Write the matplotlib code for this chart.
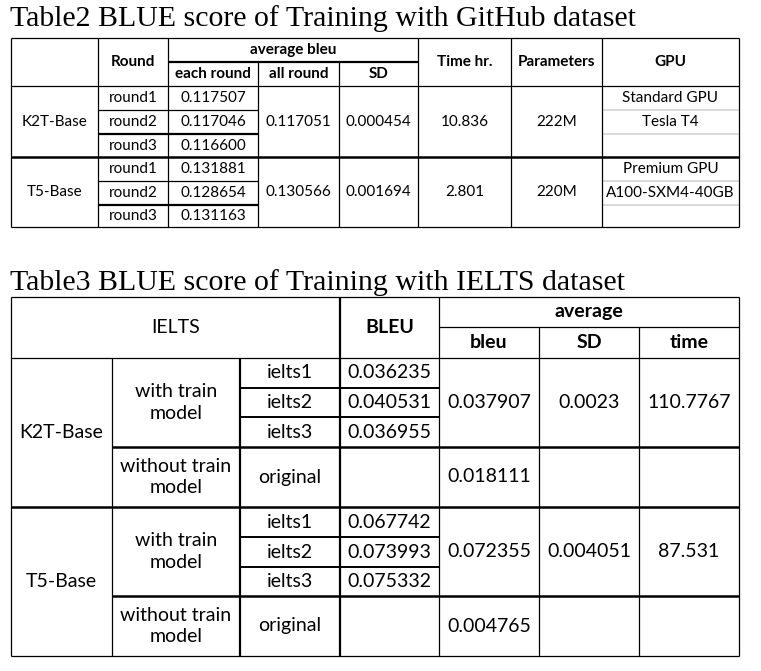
import matplotlib
matplotlib.use("Agg")
import matplotlib.pyplot as plt

# Table2 data
models = ["K2T-Base", "T5-Base"]
rounds = ["round1", "round2", "round3"]
each_round = [["0.117507", "0.117046", "0.116600"],
              ["0.131881", "0.128654", "0.131163"]]
all_round = ["0.117051", "0.130566"]
sd_round = ["0.000454", "0.001694"]
time_hr = ["10.836", "2.801"]
params = ["222M", "220M"]
gpu = [["Standard GPU", "Tesla T4"], ["Premium GPU", "A100-SXM4-40GB"]]

# Table3 data
ielts_runs = ["ielts1", "ielts2", "ielts3"]
ielts_bleu = [["0.036235", "0.040531", "0.036955"],
              ["0.067742", "0.073993", "0.075332"]]
avg_bleu = ["0.037907", "0.072355"]
avg_sd = ["0.0023", "0.004051"]
avg_time = ["110.7767", "87.531"]
orig_bleu = ["0.018111", "0.004765"]

W, H = 761, 671
fig = plt.figure(figsize=(W / 100, H / 100), dpi=100)
ax = fig.add_axes([0, 0, 1, 1])
ax.set_xlim(0, W)
ax.set_ylim(H, 0)
ax.axis("off")

SANS = ["Lato", "DejaVu Sans"]
SERIF = "Liberation Serif"


def hl(y, x0, x1, lw=0.9, c="black"):
    ax.plot([x0, x1], [y, y], color=c, lw=lw, solid_capstyle="butt")


def vl(x, y0, y1, lw=0.9, c="black"):
    ax.plot([x, x], [y0, y1], color=c, lw=lw, solid_capstyle="butt")


def txt(x, y, s, size, bold=False):
    ax.text(x, y, s, ha="center", va="center", fontsize=size, family=SANS,
            fontweight="bold" if bold else "normal", linespacing=1.3)


# ---------- Table2 ----------
ax.text(10, 19, "Table2 BLUE score of Training with GitHub dataset", fontsize=21.5,
        family=SERIF, va="center", ha="left")
cols2 = [11, 98, 168, 258, 339, 418, 511, 602, 739]
top2, sub2, head2, bot2 = 38, 62, 86, 227
rows2 = [86, 110, 134, 157, 181, 205, 227]

hl(top2, cols2[0], cols2[-1])
hl(bot2, cols2[0], cols2[-1])
hl(head2, cols2[0], cols2[-1])
hl(sub2, cols2[2], cols2[5], lw=1.6)
hl(157, cols2[0], cols2[-1], lw=1.8)
for y in [110, 134, 181, 205]:
    hl(y, cols2[1], cols2[3], lw=1.6 if y in (134, 205) else 0.9)
    hl(y, cols2[7], cols2[8], lw=1.4, c="#d9d9d9")
for i, x in enumerate(cols2):
    if i in (3, 4):
        vl(x, sub2, bot2)
    else:
        vl(x, top2, bot2)

fs2 = 11
txt((cols2[1] + cols2[2]) / 2, (top2 + head2) / 2, "Round", fs2, True)
txt((cols2[2] + cols2[5]) / 2, (top2 + sub2) / 2, "average bleu", fs2, True)
txt((cols2[2] + cols2[3]) / 2, (sub2 + head2) / 2, "each round", fs2, True)
txt((cols2[3] + cols2[4]) / 2, (sub2 + head2) / 2, "all round", fs2, True)
txt((cols2[4] + cols2[5]) / 2, (sub2 + head2) / 2, "SD", fs2, True)
txt((cols2[5] + cols2[6]) / 2, (top2 + head2) / 2, "Time hr.", fs2, True)
txt((cols2[6] + cols2[7]) / 2, (top2 + head2) / 2, "Parameters", fs2, True)
txt((cols2[7] + cols2[8]) / 2, (top2 + head2) / 2, "GPU", fs2, True)

for m in range(2):
    y0, y1 = rows2[3 * m], rows2[3 * m + 3]
    yc = (y0 + y1) / 2
    txt((cols2[0] + cols2[1]) / 2, yc, models[m], fs2)
    for r in range(3):
        yr = (rows2[3 * m + r] + rows2[3 * m + r + 1]) / 2
        txt((cols2[1] + cols2[2]) / 2, yr, rounds[r], fs2)
        txt((cols2[2] + cols2[3]) / 2, yr, each_round[m][r], fs2)
        if r < 2:
            txt((cols2[7] + cols2[8]) / 2, yr, gpu[m][r], fs2)
    txt((cols2[3] + cols2[4]) / 2, yc, all_round[m], fs2)
    txt((cols2[4] + cols2[5]) / 2, yc, sd_round[m], fs2)
    txt((cols2[5] + cols2[6]) / 2, yc, time_hr[m], fs2)
    txt((cols2[6] + cols2[7]) / 2, yc, params[m], fs2)

# ---------- Table3 ----------
ax.text(10, 283, "Table3 BLUE score of Training with IELTS dataset", fontsize=21.5,
        family=SERIF, va="center", ha="left")
cols3 = [11, 112, 240, 340, 439, 539, 639, 739]
top3, sub3, head3, bot3 = 297, 327, 358, 656
blocks = [[358, 388, 417, 447, 507], [507, 537, 567, 596, 656]]

hl(top3, cols3[0], cols3[-1])
hl(sub3, cols3[4], cols3[7])
hl(head3, cols3[0], cols3[-1])
hl(bot3, cols3[0], cols3[-1])
hl(507, cols3[0], cols3[-1], lw=1.8)
vl(cols3[0], top3, bot3)
vl(cols3[1], head3, bot3)
vl(cols3[2], head3, bot3, lw=1.6)
vl(cols3[3], top3, bot3, lw=1.6)
vl(cols3[4], top3, bot3)
vl(cols3[5], sub3, bot3)
vl(cols3[6], sub3, bot3)
vl(cols3[7], top3, bot3)

fs3 = 14
txt((cols3[0] + cols3[3]) / 2, (top3 + head3) / 2, "IELTS", fs3)
txt((cols3[3] + cols3[4]) / 2, (top3 + head3) / 2, "BLEU", fs3, True)
txt((cols3[4] + cols3[7]) / 2, (top3 + sub3) / 2, "average", fs3, True)
txt((cols3[4] + cols3[5]) / 2, (sub3 + head3) / 2, "bleu", fs3, True)
txt((cols3[5] + cols3[6]) / 2, (sub3 + head3) / 2, "SD", fs3, True)
txt((cols3[6] + cols3[7]) / 2, (sub3 + head3) / 2, "time", fs3, True)

for m in range(2):
    b = blocks[m]
    txt((cols3[0] + cols3[1]) / 2, (b[0] + b[4]) / 2, models[m], fs3)
    hl(b[3], cols3[1], cols3[-1], lw=1.8)
    for y in (b[1], b[2]):
        hl(y, cols3[2], cols3[4], lw=1.4)
    txt((cols3[1] + cols3[2]) / 2, (b[0] + b[3]) / 2, "with train\nmodel", fs3)
    for r in range(3):
        yr = (b[r] + b[r + 1]) / 2
        txt((cols3[2] + cols3[3]) / 2, yr, ielts_runs[r], fs3)
        txt((cols3[3] + cols3[4]) / 2, yr, ielts_bleu[m][r], fs3)
    yc = (b[0] + b[3]) / 2
    txt((cols3[4] + cols3[5]) / 2, yc, avg_bleu[m], fs3)
    txt((cols3[5] + cols3[6]) / 2, yc, avg_sd[m], fs3)
    txt((cols3[6] + cols3[7]) / 2, yc, avg_time[m], fs3)
    yo = (b[3] + b[4]) / 2
    txt((cols3[1] + cols3[2]) / 2, yo, "without train\nmodel", fs3)
    txt((cols3[2] + cols3[3]) / 2, yo, "original", fs3)
    txt((cols3[4] + cols3[5]) / 2, yo, orig_bleu[m], fs3)

fig.savefig("out.png", dpi=100, facecolor="white")
